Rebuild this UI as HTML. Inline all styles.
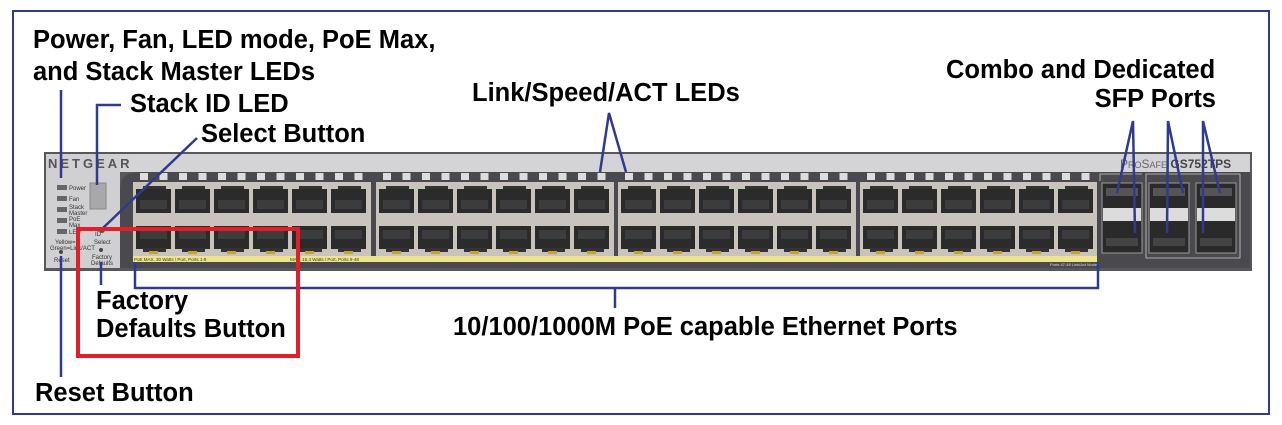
<!DOCTYPE html>
<html><head><meta charset="utf-8"><style>
html,body{margin:0;padding:0;background:#fff;}
svg{display:block;}
.t{font-family:"Liberation Sans",Arial,sans-serif;font-weight:bold;font-size:25.5px;fill:#000;}
.s{font-family:"Liberation Sans",Arial,sans-serif;font-size:6px;fill:#333;}
</style></head><body>
<svg width="1282" height="425" viewBox="0 0 1282 425" xmlns="http://www.w3.org/2000/svg">
<defs>
<pattern id="top" x="0" y="0" width="39" height="425" patternUnits="userSpaceOnUse">
  <rect x="10" y="186" width="23" height="4" fill="#333"/>
  <rect x="3" y="189" width="35" height="24" fill="#2b2b2b"/>
  <rect x="7" y="200" width="27" height="9" fill="#3c3c3c"/>
</pattern>
<pattern id="bot" x="0" y="0" width="39" height="425" patternUnits="userSpaceOnUse">
  <rect x="3" y="226" width="35" height="23" fill="#2b2b2b"/>
  <rect x="10" y="248" width="23" height="4" fill="#333"/>
  <rect x="16" y="251" width="9" height="3" fill="#c9a02a"/>
  <rect x="7" y="230" width="27" height="9" fill="#3c3c3c"/>
</pattern>
<pattern id="lab" x="0" y="0" width="19.5" height="425" patternUnits="userSpaceOnUse">
  <rect x="7" y="173" width="8" height="7" fill="#ddd"/>
</pattern>
</defs>
<rect x="13" y="11" width="1256" height="403" fill="none" stroke="#2e3b8e" stroke-width="2"/>

<!-- chassis -->
<rect x="44" y="152" width="1208" height="119" fill="#58585c"/>
<rect x="46" y="154" width="1204" height="18" fill="#d4d4d6"/>
<rect x="46" y="154" width="74" height="114" fill="#d0d0d2"/>
<path d="M120 268 L120 190 Q120 172 140 172 L1250 172 L1250 268 Z" fill="#4a4a4e"/>
<text x="48" y="168" font-family="Liberation Sans,sans-serif" font-size="13" font-weight="bold" letter-spacing="3" fill="#555">NETGEAR</text>
<text x="1120" y="168" font-family="Liberation Sans,sans-serif" font-size="12" fill="#666">P<tspan font-size="9">RO</tspan>S<tspan font-size="9">AFE</tspan> <tspan font-weight="bold" fill="#444">GS752TPS</tspan></text>
<g fill="#666"><rect x="57" y="185" width="10" height="5"/><rect x="57" y="196" width="10" height="5"/><rect x="57" y="207" width="10" height="5"/><rect x="57" y="218" width="10" height="5"/><rect x="57" y="229" width="10" height="5"/></g>
<g class="s"><text x="69" y="190">Power</text><text x="69" y="201">Fan</text><text x="69" y="209">Stack</text><text x="69" y="215">Master</text><text x="69" y="221">PoE</text><text x="69" y="227">Max</text><text x="69" y="234">LED</text><text x="55" y="244">Yellow=</text><text x="50" y="250">Green=Link/ACT</text><text x="54" y="262">Reset</text><text x="95" y="236">ID</text><text x="94" y="244">Select</text><text x="92" y="259">Factory</text><text x="91" y="265">Defaults</text></g>
<rect x="90" y="183" width="16" height="26" fill="#a8a8aa" stroke="#888"/>
<circle cx="102" cy="230" r="3" fill="#555"/>
<circle cx="101" cy="250" r="2" fill="#444"/>
<circle cx="61" cy="252" r="2" fill="#444"/>

<!-- port groups -->
<g transform="translate(133,0)">
<rect x="0" y="182" width="238" height="74" fill="#c8c4bc"/>
<rect x="0" y="172" width="236" height="9" fill="url(#lab)"/>
<rect x="0" y="183" width="236" height="72" fill="url(#top)"/>
<rect x="0" y="183" width="236" height="72" fill="url(#bot)"/>
</g>
<g transform="translate(376,0)">
<rect x="0" y="182" width="238" height="74" fill="#c8c4bc"/>
<rect x="0" y="172" width="236" height="9" fill="url(#lab)"/>
<rect x="0" y="183" width="236" height="72" fill="url(#top)"/>
<rect x="0" y="183" width="236" height="72" fill="url(#bot)"/>
</g>
<g transform="translate(618,0)">
<rect x="0" y="182" width="238" height="74" fill="#c8c4bc"/>
<rect x="0" y="172" width="236" height="9" fill="url(#lab)"/>
<rect x="0" y="183" width="236" height="72" fill="url(#top)"/>
<rect x="0" y="183" width="236" height="72" fill="url(#bot)"/>
</g>
<g transform="translate(860,0)">
<rect x="0" y="182" width="237" height="74" fill="#c8c4bc"/>
<rect x="0" y="172" width="236" height="9" fill="url(#lab)"/>
<rect x="0" y="183" width="236" height="72" fill="url(#top)"/>
<rect x="0" y="183" width="236" height="72" fill="url(#bot)"/>
</g>
<rect x="133" y="256" width="964" height="6" fill="#ede58e"/>
<g class="s"><text x="134" y="261" font-size="4.5">PoE MAX. 30 Watts / Port, Ports 1-8</text><text x="290" y="261" font-size="4.5">MAX. 15.4 Watts / Port, Ports 9-48</text><text x="1050" y="266" font-size="4" fill="#ddd">Ports 47-48 Link/Act Mode</text></g>

<!-- SFP -->
<g>
<rect x="1102" y="183" width="40" height="70" fill="#2a2a2a" stroke="#999"/>
<rect x="1149" y="183" width="40" height="70" fill="#2a2a2a" stroke="#999"/>
<rect x="1196" y="183" width="40" height="70" fill="#2a2a2a" stroke="#999"/>
<rect x="1103" y="208" width="38" height="13" fill="#dcdcdc"/>
<rect x="1150" y="208" width="38" height="13" fill="#dcdcdc"/>
<rect x="1197" y="208" width="38" height="13" fill="#dcdcdc"/>
<rect x="1106" y="188" width="32" height="8" fill="#555"/>
<rect x="1153" y="188" width="32" height="8" fill="#555"/>
<rect x="1200" y="188" width="32" height="8" fill="#555"/>
<rect x="1106" y="238" width="32" height="8" fill="#444"/>
<rect x="1153" y="238" width="32" height="8" fill="#444"/>
<rect x="1200" y="238" width="32" height="8" fill="#444"/>
</g>
<path d="M1100 181 L1100 174 L1142 174 M1146 258 L1146 174 L1240 174 L1240 258 L1146 258" fill="none" stroke="#ccc" stroke-width="0.8"/>

<!-- connectors -->
<g stroke="#2e3b8e" stroke-width="2.5" fill="none">
<line x1="61" y1="90" x2="61" y2="178"/>
<polyline points="121,105 97,105 97,185"/>
<line x1="197" y1="138" x2="103" y2="228"/>
<polyline points="600,172 609,113 626,172"/>
<polyline points="1117,193 1133,121 1135,233"/>
<polyline points="1167,233 1168,121 1183,193"/>
<polyline points="1203,233 1203,121 1220,193"/>
<polyline points="135,262 135,288 1098,288 1098,262"/>
<line x1="615" y1="288" x2="615" y2="308"/>
<line x1="61" y1="256" x2="61" y2="377"/>
<line x1="101" y1="262" x2="101" y2="285"/>
</g>

<rect x="78" y="229" width="220" height="127" fill="none" stroke="#e41e26" stroke-width="4"/>

<text class="t" x="33" y="48">Power, Fan, LED mode, PoE Max,</text>
<text class="t" x="33" y="80">and Stack Master LEDs</text>
<text class="t" x="130" y="112">Stack ID LED</text>
<text class="t" x="201" y="142">Select Button</text>
<text class="t" x="472" y="101">Link/Speed/ACT LEDs</text>
<text class="t" x="946" y="78">Combo and Dedicated</text>
<text class="t" x="1216" y="107" text-anchor="end">SFP Ports</text>
<text class="t" x="96" y="309">Factory</text>
<text class="t" x="96" y="337">Defaults Button</text>
<text class="t" x="453" y="335">10/100/1000M PoE capable Ethernet Ports</text>
<text class="t" x="35" y="401">Reset Button</text>
</svg>
</body></html>
